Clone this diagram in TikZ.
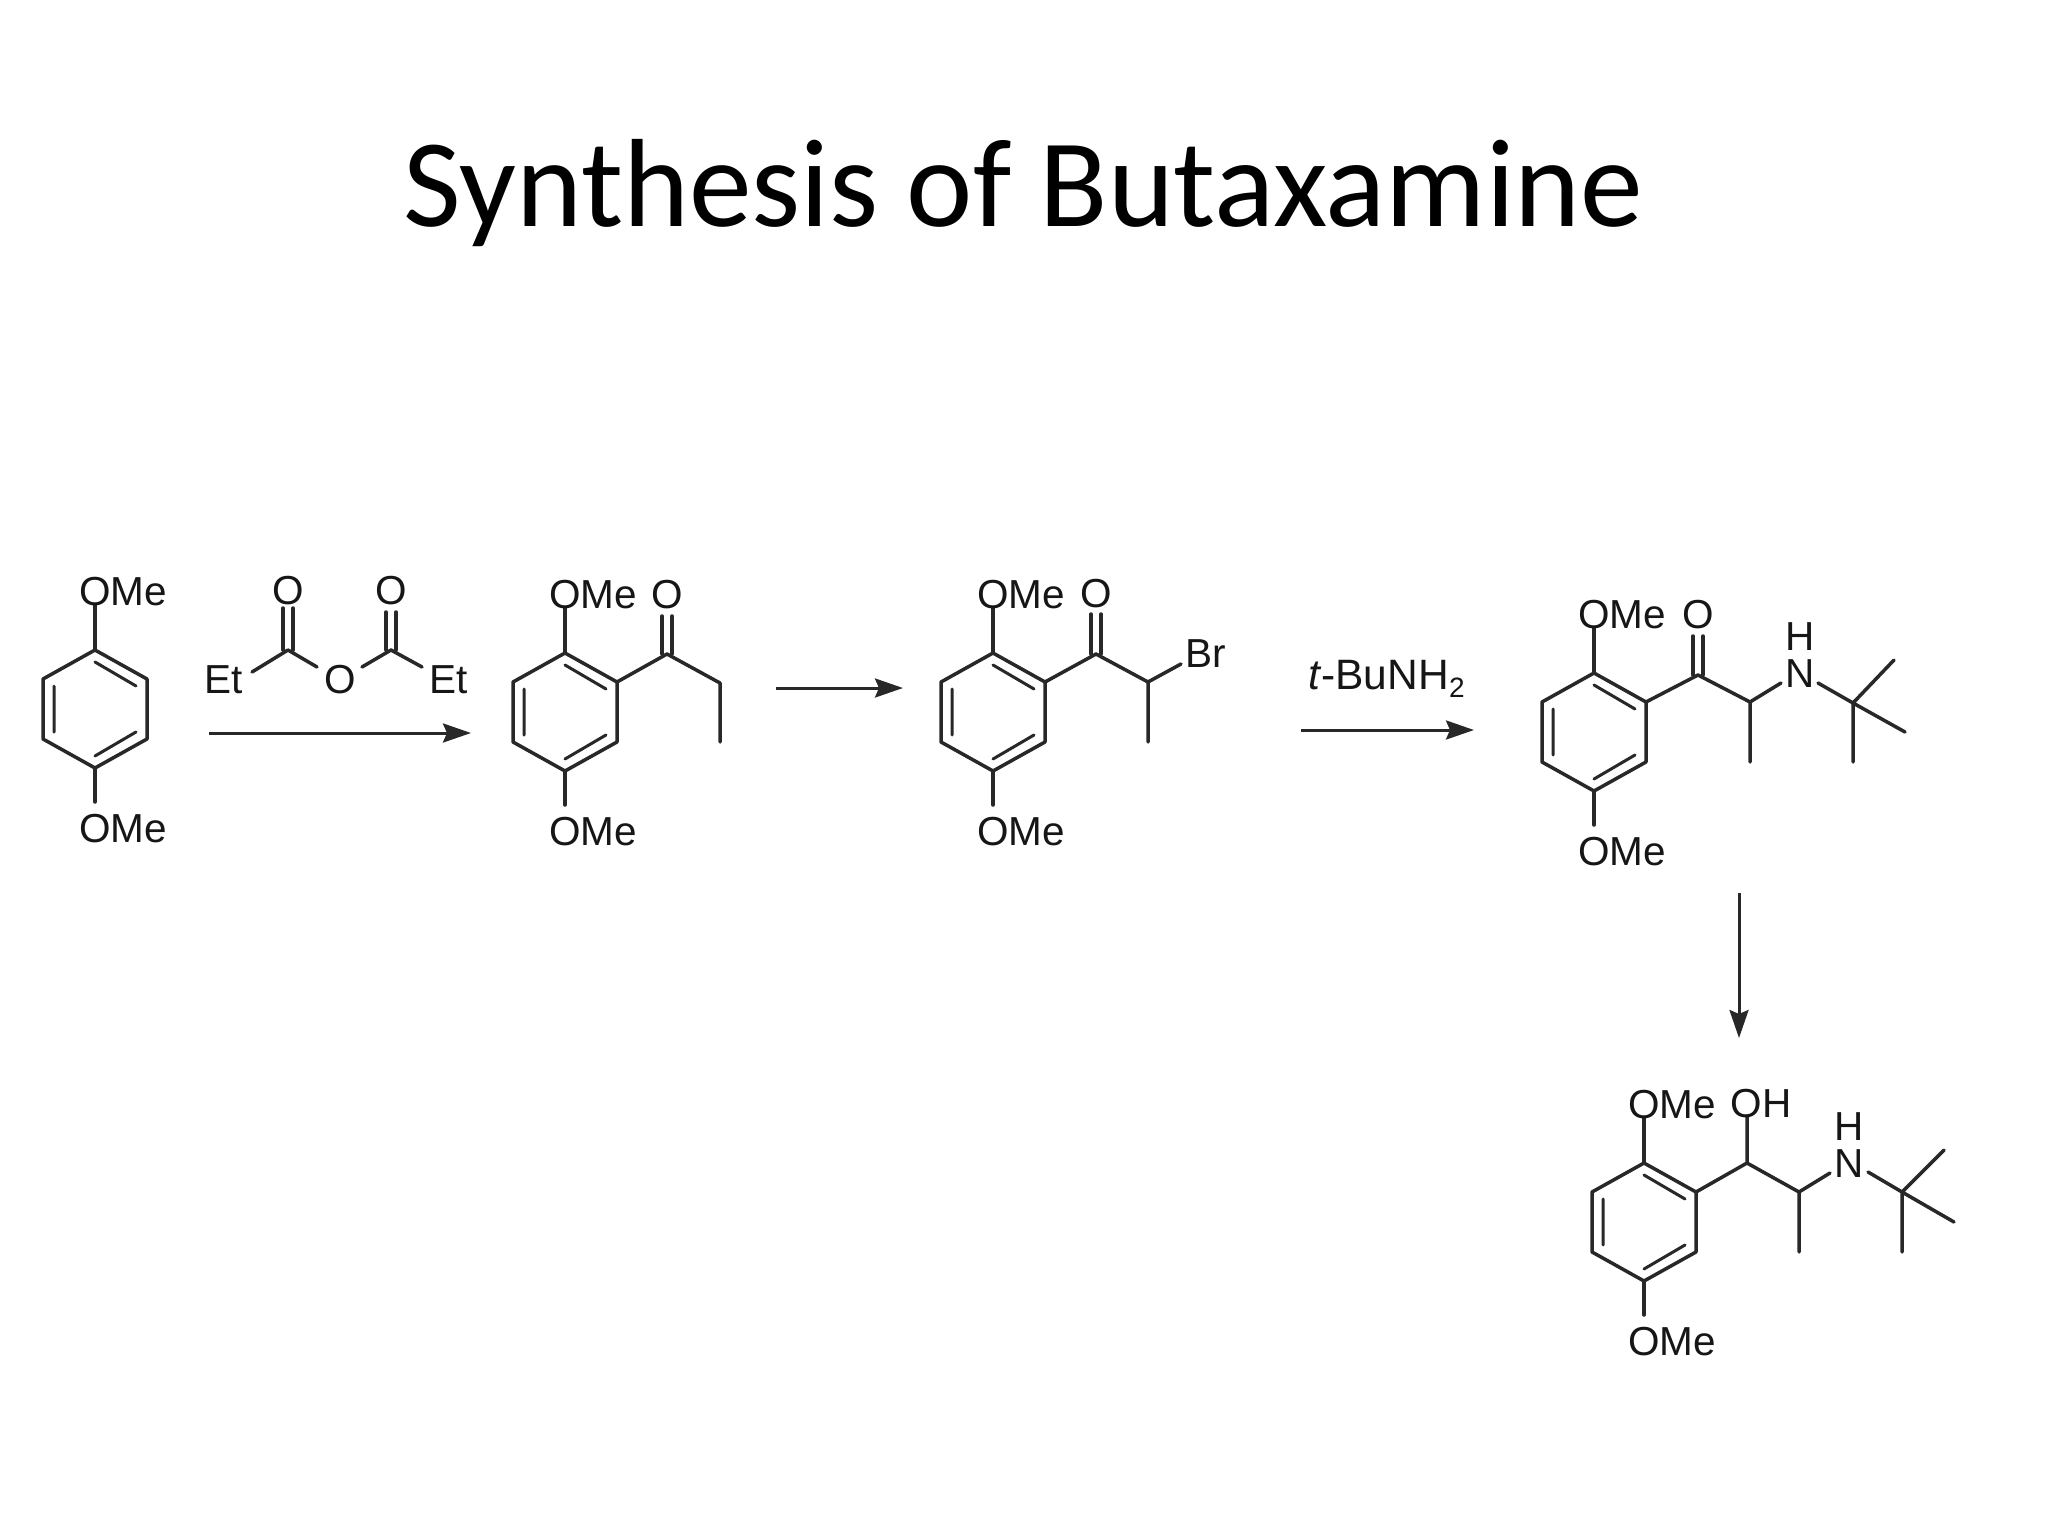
\documentclass[tikz,border=0pt]{standalone}
\usepackage{fontspec}
\setmainfont{Liberation Sans}
\newfontfamily\titlefont{Carlito}
\usetikzlibrary{arrows.meta}
\definecolor{inkbond}{HTML}{282828}
\definecolor{inkatom}{HTML}{161616}
\tikzset{
  bond/.style={draw=inkbond,line width=3.5pt,line cap=round,line join=round},
  inner bond/.style={draw=inkbond,line width=3pt,line cap=round},
  atom/.style={inner sep=0pt,yshift=-1.5pt,text=inkatom,font=\fontsize{40.5}{48}\selectfont},
  reaction/.style={draw=inkbond,line width=3pt,-{Stealth[length=28pt,width=19pt,inset=4pt]}},
  titletext/.style={inner sep=0pt,text=black,font=\titlefont\fontsize{125.5}{150}\selectfont},
}
\newcommand{\arene}[3]{%
  \begin{scope}[shift={(#2,#3)},name prefix=#1-]
    \coordinate (a1) at (0,0);
    \coordinate (a2) at (52,29);
    \coordinate (a3) at (52,89);
    \coordinate (a4) at (0,118);
    \coordinate (a5) at (-52,89);
    \coordinate (a6) at (-52,29);
    \coordinate (i1) at (0,12);
    \coordinate (i2) at (41,36);
    \coordinate (i3) at (41,82);
    \coordinate (i4) at (0,106);
    \coordinate (i5) at (-41,82);
    \coordinate (i6) at (-41,36);
    \coordinate (ot) at (0,-45);
    \coordinate (ob) at (0,152);
    \draw[bond] (a1)--(a2)--(a3)--(a4)--(a5)--(a6)--cycle;
    \draw[inner bond] (i1)--(i2) (i3)--(i4) (i5)--(i6);
    \draw[bond] (a1)--(ot) (a4)--(ob);
    \node[atom] (ometop) at (28,-60) {OMe};
    \node[atom] (omebot) at (28,177) {OMe};
  \end{scope}}
\newcommand{\carbonyl}[5]{% name, Cx, Cy, top-of-bond y, label y
  \coordinate (#1a) at (#2-5,#3);
  \coordinate (#1b) at (#2+5,#3);
  \coordinate (#1c) at (#2-5,#4);
  \coordinate (#1d) at (#2+5,#4);
  \draw[bond] (#1a)--(#1c) (#1b)--(#1d);
  \node[atom] (#1) at (#2,#5) {O};}
\begin{document}
\begin{tikzpicture}[x=1pt,y=-1pt]
\useasboundingbox (0,0) rectangle (2048,1536);
\fill[white] (0,0) rectangle (2048,1536);

\node[titletext] (title) at (1023.5,193) {Synthesis of Butaxamine};

% --- 1,4-dimethoxybenzene
\arene{m1}{95}{650}

% --- propionic anhydride
\carbonyl{anhOa}{288}{650}{608}{589}
\carbonyl{anhOb}{391}{650}{612}{589}
\coordinate (anhCa) at (288,650);
\coordinate (anhCb) at (391,650);
\node[atom] (anhEta) at (224,678) {Et};
\node[atom] (anhO) at (340,678) {O};
\node[atom] (anhEtb) at (449,678) {Et};
\coordinate (anhEtaEnd) at (252,672);
\coordinate (anhOa1) at (317,667);
\coordinate (anhOa2) at (362,667);
\coordinate (anhEtbEnd) at (422,667);
\draw[bond] (anhEtaEnd)--(anhCa)--(anhOa1) (anhOa2)--(anhCb)--(anhEtbEnd);

% --- arrow 1
\coordinate (r1s) at (209,733);
\coordinate (r1e) at (471,733);
\draw[reaction] (r1s)--(r1e);

% --- aryl ketone
\arene{m2}{565}{653}
\coordinate (m2c) at (667,654);
\coordinate (m2ch2) at (720,683);
\coordinate (m2me) at (720,742);
\draw[bond] (m2-a2)--(m2c)--(m2ch2)--(m2me);
\carbonyl{m2O}{667}{654}{616}{593}

% --- arrow 2
\coordinate (r2s) at (776,688);
\coordinate (r2e) at (903,688);
\draw[reaction] (r2s)--(r2e);

% --- bromoketone
\arene{m3}{993}{653}
\coordinate (m3c) at (1096,654);
\coordinate (m3ch) at (1148,682);
\coordinate (m3me) at (1148,742);
\coordinate (m3brEnd) at (1181,664);
\draw[bond] (m3-a2)--(m3c)--(m3ch)--(m3me) (m3ch)--(m3brEnd);
\carbonyl{m3O}{1096}{654}{614}{592}
\node[atom] (m3br) at (1206,652) {Br};

% --- arrow 3
\node[inner sep=0pt,text=inkatom,font=\fontsize{42.5}{50}\selectfont,anchor=base west] (r3label) at (1308,689) {\textit{t}-BuNH\raisebox{-8pt}{\fontsize{28}{28}\selectfont 2}};
\coordinate (r3s) at (1301,730);
\coordinate (r3e) at (1474,730);
\draw[reaction] (r3s)--(r3e);

% --- aminoketone
\arene{m4}{1594}{673}
\coordinate (m4c) at (1698,675);
\coordinate (m4ch) at (1750,702);
\coordinate (m4me) at (1750,762);
\coordinate (m4n1) at (1781,683);
\coordinate (m4n2) at (1818,683);
\coordinate (m4t) at (1853,703);
\coordinate (m4t1) at (1894,660);
\coordinate (m4t2) at (1905,732);
\coordinate (m4t3) at (1853,762);
\draw[bond] (m4-a2)--(m4c)--(m4ch)--(m4me) (m4ch)--(m4n1) (m4n2)--(m4t)--(m4t1) (m4t)--(m4t2) (m4t)--(m4t3);
\carbonyl{m4O}{1698}{675}{636}{613}
\node[atom] (m4N) at (1800,672) {N};
\node[atom] (m4H) at (1800,635) {H};

% --- arrow 4
\coordinate (r4s) at (1739,893);
\coordinate (r4e) at (1739,1038);
\draw[reaction] (r4s)--(r4e);

% --- butaxamine
\arene{m5}{1644}{1163}
\coordinate (m5c) at (1747,1163);
\coordinate (m5ohEnd) at (1747,1116);
\coordinate (m5ch) at (1799,1192);
\coordinate (m5me) at (1799,1252);
\coordinate (m5n1) at (1830,1173);
\coordinate (m5n2) at (1868,1172);
\coordinate (m5t) at (1902,1192);
\coordinate (m5t1) at (1944,1150);
\coordinate (m5t2) at (1954,1222);
\coordinate (m5t3) at (1902,1252);
\draw[bond] (m5-a2)--(m5c)--(m5ch)--(m5me) (m5c)--(m5ohEnd) (m5ch)--(m5n1) (m5n2)--(m5t)--(m5t1) (m5t)--(m5t2) (m5t)--(m5t3);
\node[atom] (m5OH) at (1761,1102) {OH};
\node[atom] (m5N) at (1849,1162) {N};
\node[atom] (m5H) at (1849,1125) {H};
\end{tikzpicture}
\end{document}
